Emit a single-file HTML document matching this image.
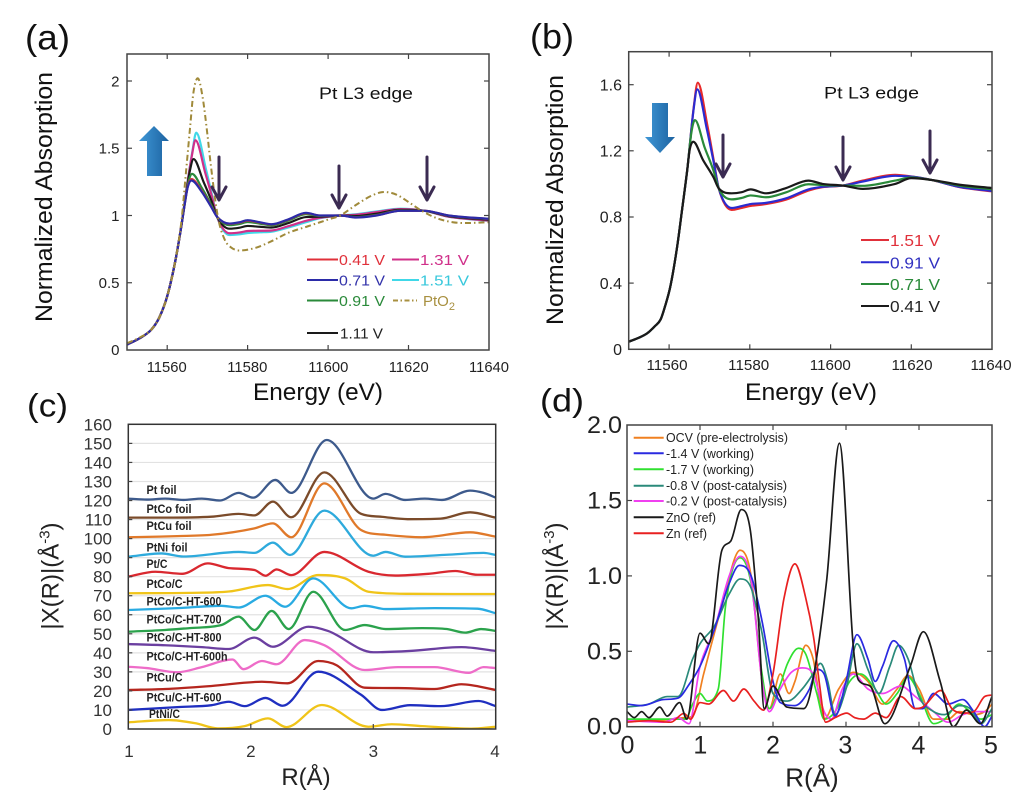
<!DOCTYPE html>
<html>
<head>
<meta charset="utf-8">
<style>
html,body{margin:0;padding:0;background:#fff;}
svg{display:block;}
text{font-family:"Liberation Sans",Arial,sans-serif;}
</style>
</head>
<body>
<svg id="fig" width="1024" height="807" viewBox="0 0 1024 807" xmlns="http://www.w3.org/2000/svg">
<defs>
  <linearGradient id="bgr" x1="0" x2="1" y1="0" y2="0">
    <stop offset="0" stop-color="#3f97d6"/>
    <stop offset="1" stop-color="#1c62a0"/>
  </linearGradient>
  <clipPath id="ca"><rect x="127" y="54" width="362" height="296"/></clipPath>
  <clipPath id="cb"><rect x="628.7" y="51.7" width="363.3" height="297.6"/></clipPath>
  <clipPath id="cc"><rect x="128.3" y="424.3" width="367.4" height="304.7"/></clipPath>
  <clipPath id="cd"><rect x="627" y="425" width="365" height="301.7"/></clipPath>
</defs>
<rect width="1024" height="807" fill="#fff"/>

<!-- ================= PANEL (a) ================= -->
<text x="25" y="49.5" font-size="35" textLength="45" lengthAdjust="spacingAndGlyphs" fill="#111">(a)</text>
<g id="ga" clip-path="url(#ca)"></g>
<rect x="127" y="54" width="362" height="296" fill="none" stroke="#444" stroke-width="1.5"/>
<g stroke="#444" stroke-width="1.2">
  <line x1="167.2" y1="350" x2="167.2" y2="345"/><line x1="247.6" y1="350" x2="247.6" y2="345"/>
  <line x1="328.1" y1="350" x2="328.1" y2="345"/><line x1="408.5" y1="350" x2="408.5" y2="345"/>
  <line x1="167.2" y1="54" x2="167.2" y2="59"/><line x1="247.6" y1="54" x2="247.6" y2="59"/>
  <line x1="328.1" y1="54" x2="328.1" y2="59"/><line x1="408.5" y1="54" x2="408.5" y2="59"/>
  <line x1="127" y1="282.75" x2="132" y2="282.75"/><line x1="127" y1="215.5" x2="132" y2="215.5"/>
  <line x1="127" y1="148.25" x2="132" y2="148.25"/><line x1="127" y1="81" x2="132" y2="81"/>
  <line x1="489" y1="282.75" x2="484" y2="282.75"/><line x1="489" y1="215.5" x2="484" y2="215.5"/>
  <line x1="489" y1="148.25" x2="484" y2="148.25"/><line x1="489" y1="81" x2="484" y2="81"/>
</g>
<g font-size="15" fill="#222" text-anchor="end">
  <text x="119.5" y="355">0</text>
  <text x="119.5" y="288">0.5</text>
  <text x="119.5" y="221">1</text>
  <text x="119.5" y="153.7">1.5</text>
  <text x="119.5" y="86.4">2</text>
</g>
<g font-size="15" fill="#222" text-anchor="middle">
  <text x="166.7" y="372" textLength="40" lengthAdjust="spacingAndGlyphs">11560</text>
  <text x="247.3" y="372" textLength="40" lengthAdjust="spacingAndGlyphs">11580</text>
  <text x="328.3" y="372" textLength="40" lengthAdjust="spacingAndGlyphs">11600</text>
  <text x="408.7" y="372" textLength="40" lengthAdjust="spacingAndGlyphs">11620</text>
  <text x="489" y="372" textLength="40" lengthAdjust="spacingAndGlyphs">11640</text>
</g>
<text transform="translate(52,197) rotate(-90)" text-anchor="middle" font-size="24" textLength="250" lengthAdjust="spacingAndGlyphs" fill="#111">Normalized Absorption</text>
<text x="253" y="400" font-size="24" textLength="130" lengthAdjust="spacingAndGlyphs" fill="#111">Energy (eV)</text>
<text x="319" y="99" font-size="17" textLength="94" lengthAdjust="spacingAndGlyphs" fill="#111">Pt L3 edge</text>
<polygon points="154,126 139,141 147,141 147,176 162,176 162,141 169,141" fill="url(#bgr)"/>
<g stroke="#3b2b52" stroke-width="3" fill="none" stroke-linecap="round" stroke-linejoin="round">
  <path d="M219,157 L219,199 M212,187 L219,200 L226,187"/>
  <path d="M339,166 L339,207 M332,195 L339,208 L346,195"/>
  <path d="M427,157 L427,199 M420,187 L427,200 L434,187"/>
</g>
<g stroke-width="2">
  <line x1="307" y1="259.5" x2="338" y2="259.5" stroke="#e0303a"/>
  <line x1="392" y1="259.5" x2="419" y2="259.5" stroke="#d0308a"/>
  <line x1="307" y1="280" x2="338" y2="280" stroke="#2b2ba8"/>
  <line x1="392" y1="280" x2="419" y2="280" stroke="#40d8e8"/>
  <line x1="307" y1="300.5" x2="338" y2="300.5" stroke="#2a8a3a"/>
  <line x1="393" y1="300.5" x2="417" y2="300.5" stroke="#a89040" stroke-dasharray="5 2.5 1.5 2.5"/>
  <line x1="307" y1="333" x2="338" y2="333" stroke="#1a1a1a"/>
</g>
<g font-size="15">
  <text x="339" y="265" fill="#e0303a" textLength="46" lengthAdjust="spacingAndGlyphs">0.41 V</text>
  <text x="420" y="265" fill="#d0308a" textLength="49" lengthAdjust="spacingAndGlyphs">1.31 V</text>
  <text x="339" y="285.5" fill="#3333aa" textLength="46" lengthAdjust="spacingAndGlyphs">0.71 V</text>
  <text x="420" y="285.5" fill="#38c8dc" textLength="49" lengthAdjust="spacingAndGlyphs">1.51 V</text>
  <text x="339" y="306" fill="#2a8a3a" textLength="46" lengthAdjust="spacingAndGlyphs">0.91 V</text>
  <text x="423" y="306" fill="#a89040">PtO<tspan font-size="11" dy="4">2</tspan></text>
  <text x="340" y="338.5" fill="#222" textLength="43" lengthAdjust="spacingAndGlyphs">1.11 V</text>
</g>

<!-- ================= PANEL (b) ================= -->
<text x="530" y="48.5" font-size="35" textLength="44" lengthAdjust="spacingAndGlyphs" fill="#111">(b)</text>
<g id="gb" clip-path="url(#cb)"></g>
<rect x="628.7" y="51.7" width="363.3" height="297.6" fill="none" stroke="#444" stroke-width="1.5"/>
<g stroke="#444" stroke-width="1.2">
  <line x1="669.1" y1="349.3" x2="669.1" y2="344.3"/><line x1="749.8" y1="349.3" x2="749.8" y2="344.3"/>
  <line x1="830.6" y1="349.3" x2="830.6" y2="344.3"/><line x1="911.3" y1="349.3" x2="911.3" y2="344.3"/>
  <line x1="669.1" y1="51.7" x2="669.1" y2="56.7"/><line x1="749.8" y1="51.7" x2="749.8" y2="56.7"/>
  <line x1="830.6" y1="51.7" x2="830.6" y2="56.7"/><line x1="911.3" y1="51.7" x2="911.3" y2="56.7"/>
  <line x1="628.7" y1="283.1" x2="633.7" y2="283.1"/><line x1="628.7" y1="217" x2="633.7" y2="217"/>
  <line x1="628.7" y1="150.8" x2="633.7" y2="150.8"/><line x1="628.7" y1="84.7" x2="633.7" y2="84.7"/>
  <line x1="992" y1="283.1" x2="987" y2="283.1"/><line x1="992" y1="217" x2="987" y2="217"/>
  <line x1="992" y1="150.8" x2="987" y2="150.8"/><line x1="992" y1="84.7" x2="987" y2="84.7"/>
</g>
<g font-size="16" fill="#222" text-anchor="end">
  <text x="622" y="355">0</text>
  <text x="622" y="289">0.4</text>
  <text x="622" y="222.7">0.8</text>
  <text x="622" y="156.7">1.2</text>
  <text x="622" y="90.7">1.6</text>
</g>
<g font-size="15" fill="#222" text-anchor="middle">
  <text x="667" y="370" textLength="41" lengthAdjust="spacingAndGlyphs">11560</text>
  <text x="748.7" y="370" textLength="41" lengthAdjust="spacingAndGlyphs">11580</text>
  <text x="830.3" y="370" textLength="41" lengthAdjust="spacingAndGlyphs">11600</text>
  <text x="912" y="370" textLength="41" lengthAdjust="spacingAndGlyphs">11620</text>
  <text x="991" y="370" textLength="41" lengthAdjust="spacingAndGlyphs">11640</text>
</g>
<text transform="translate(563,200) rotate(-90)" text-anchor="middle" font-size="24" textLength="250" lengthAdjust="spacingAndGlyphs" fill="#111">Normalized Absorption</text>
<text x="745" y="400" font-size="24" textLength="132" lengthAdjust="spacingAndGlyphs" fill="#111">Energy (eV)</text>
<text x="824" y="98.5" font-size="17" textLength="95" lengthAdjust="spacingAndGlyphs" fill="#111">Pt L3 edge</text>
<polygon points="652,103 668,103 668,137 675,137 660,153 645,137 652,137" fill="url(#bgr)"/>
<g stroke="#3b2b52" stroke-width="3" fill="none" stroke-linecap="round" stroke-linejoin="round">
  <path d="M723,135 L723,176 M716,164 L723,177 L730,164"/>
  <path d="M843,137 L843,179 M836,167 L843,180 L850,167"/>
  <path d="M930,131 L930,172 M923,160 L930,173 L937,160"/>
</g>
<g stroke-width="2">
  <line x1="861" y1="240" x2="889" y2="240" stroke="#e0303a"/>
  <line x1="861" y1="262.3" x2="889" y2="262.3" stroke="#2b2bd0"/>
  <line x1="861" y1="284" x2="889" y2="284" stroke="#2a8a3a"/>
  <line x1="861" y1="306" x2="889" y2="306" stroke="#1a1a1a"/>
</g>
<g font-size="16">
  <text x="890" y="246" fill="#e0303a" textLength="50" lengthAdjust="spacingAndGlyphs">1.51 V</text>
  <text x="890" y="268.3" fill="#3030c0" textLength="50" lengthAdjust="spacingAndGlyphs">0.91 V</text>
  <text x="890" y="290" fill="#2a8a3a" textLength="50" lengthAdjust="spacingAndGlyphs">0.71 V</text>
  <text x="890" y="312" fill="#222" textLength="50" lengthAdjust="spacingAndGlyphs">0.41 V</text>
</g>

<!-- ================= PANEL (c) ================= -->
<text x="27" y="416.5" font-size="32" textLength="41" lengthAdjust="spacingAndGlyphs" fill="#111">(c)</text>
<g id="gridc" stroke="#e2e2e2" stroke-width="1.2"></g>
<g id="gc" clip-path="url(#cc)"></g>
<rect x="128.3" y="424.3" width="367.4" height="304.7" fill="none" stroke="#333" stroke-width="1.5"/>
<g id="tickc" stroke="#444" stroke-width="1.2">
  <line x1="250.8" y1="729" x2="250.8" y2="724"/>
  <line x1="373.3" y1="729" x2="373.3" y2="724"/>
</g>
<g id="labc" font-size="17" fill="#333" text-anchor="end"></g>
<g font-size="17" fill="#333" text-anchor="middle">
  <text x="129" y="757">1</text>
  <text x="250.8" y="757">2</text>
  <text x="373.3" y="757">3</text>
  <text x="495" y="757">4</text>
</g>
<text x="306" y="785" font-size="24" text-anchor="middle" fill="#222">R(Å)</text>
<text transform="translate(58.5,576) rotate(-90)" text-anchor="middle" font-size="24" fill="#222">|X(R)|(Å<tspan font-size="15" dy="-9">-3</tspan><tspan dy="9">)</tspan></text>
<g font-size="11.5" font-weight="bold" fill="#222">
  <text x="146.5" y="494" textLength="30" lengthAdjust="spacingAndGlyphs">Pt foil</text>
  <text x="146.5" y="513" textLength="45" lengthAdjust="spacingAndGlyphs">PtCo foil</text>
  <text x="146.5" y="530" textLength="45" lengthAdjust="spacingAndGlyphs">PtCu foil</text>
  <text x="146.5" y="551.5" textLength="41" lengthAdjust="spacingAndGlyphs">PtNi foil</text>
  <text x="146.5" y="568" textLength="21" lengthAdjust="spacingAndGlyphs">Pt/C</text>
  <text x="146.5" y="588" textLength="36" lengthAdjust="spacingAndGlyphs">PtCo/C</text>
  <text x="146.5" y="605.5" textLength="75" lengthAdjust="spacingAndGlyphs">PtCo/C-HT-600</text>
  <text x="146.5" y="623.5" textLength="75" lengthAdjust="spacingAndGlyphs">PtCo/C-HT-700</text>
  <text x="146.5" y="641.5" textLength="75" lengthAdjust="spacingAndGlyphs">PtCo/C-HT-800</text>
  <text x="146.5" y="660.5" textLength="81" lengthAdjust="spacingAndGlyphs">PtCo/C-HT-600h</text>
  <text x="146.5" y="681.5" textLength="36" lengthAdjust="spacingAndGlyphs">PtCu/C</text>
  <text x="146.5" y="701.5" textLength="75" lengthAdjust="spacingAndGlyphs">PtCu/C-HT-600</text>
  <text x="149" y="718" textLength="31" lengthAdjust="spacingAndGlyphs">PtNi/C</text>
</g>

<!-- ================= PANEL (d) ================= -->
<text x="540" y="411.5" font-size="32" textLength="44" lengthAdjust="spacingAndGlyphs" fill="#111">(d)</text>
<g id="gd" clip-path="url(#cd)"></g>
<rect x="627" y="425" width="365" height="301.7" fill="none" stroke="#444" stroke-width="1.5"/>
<g stroke="#444" stroke-width="1.2">
  <line x1="627" y1="651.3" x2="632" y2="651.3"/><line x1="627" y1="575.9" x2="632" y2="575.9"/><line x1="627" y1="500.5" x2="632" y2="500.5"/>
  <line x1="992" y1="651.3" x2="987" y2="651.3"/><line x1="992" y1="575.9" x2="987" y2="575.9"/><line x1="992" y1="500.5" x2="987" y2="500.5"/>
  <line x1="700" y1="726.7" x2="700" y2="721.7"/><line x1="773" y1="726.7" x2="773" y2="721.7"/>
  <line x1="846" y1="726.7" x2="846" y2="721.7"/><line x1="919" y1="726.7" x2="919" y2="721.7"/>
  <line x1="700" y1="425" x2="700" y2="430"/><line x1="773" y1="425" x2="773" y2="430"/>
  <line x1="846" y1="425" x2="846" y2="430"/><line x1="919" y1="425" x2="919" y2="430"/>
</g>
<g font-size="24" fill="#222" text-anchor="end">
  <text x="622" y="734.5" textLength="35" lengthAdjust="spacingAndGlyphs">0.0</text>
  <text x="622" y="659.5" textLength="35" lengthAdjust="spacingAndGlyphs">0.5</text>
  <text x="622" y="584" textLength="35" lengthAdjust="spacingAndGlyphs">1.0</text>
  <text x="622" y="508.5" textLength="35" lengthAdjust="spacingAndGlyphs">1.5</text>
  <text x="622" y="433" textLength="35" lengthAdjust="spacingAndGlyphs">2.0</text>
</g>
<g font-size="25" fill="#222" text-anchor="middle">
  <text x="627.5" y="753.5">0</text>
  <text x="700.3" y="753.5">1</text>
  <text x="773" y="753.5">2</text>
  <text x="845.3" y="753.5">3</text>
  <text x="918.5" y="753.5">4</text>
  <text x="991" y="753.5">5</text>
</g>
<text x="812" y="786.5" font-size="26" text-anchor="middle" fill="#222">R(Å)</text>
<text transform="translate(563,576) rotate(-90)" text-anchor="middle" font-size="24" fill="#222">|X(R)|(Å<tspan font-size="15" dy="-9">-3</tspan><tspan dy="9">)</tspan></text>
<g stroke-width="2">
  <line x1="633.7" y1="437.7" x2="663.7" y2="437.7" stroke="#f08020"/>
  <line x1="633.7" y1="453.3" x2="663.7" y2="453.3" stroke="#2a2ae0"/>
  <line x1="633.7" y1="469.3" x2="663.7" y2="469.3" stroke="#30e030"/>
  <line x1="633.7" y1="485.7" x2="663.7" y2="485.7" stroke="#2a8a7a"/>
  <line x1="633.7" y1="501" x2="663.7" y2="501" stroke="#f040f0"/>
  <line x1="633.7" y1="517.3" x2="663.7" y2="517.3" stroke="#1a1a1a"/>
  <line x1="633.7" y1="533.3" x2="663.7" y2="533.3" stroke="#e82020"/>
</g>
<g font-size="13" fill="#222">
  <text x="666" y="442.2" textLength="122" lengthAdjust="spacingAndGlyphs">OCV (pre-electrolysis)</text>
  <text x="666" y="457.8" textLength="88" lengthAdjust="spacingAndGlyphs">-1.4 V (working)</text>
  <text x="666" y="473.8" textLength="88" lengthAdjust="spacingAndGlyphs">-1.7 V (working)</text>
  <text x="666" y="490.2" textLength="121" lengthAdjust="spacingAndGlyphs">-0.8 V (post-catalysis)</text>
  <text x="666" y="505.5" textLength="121" lengthAdjust="spacingAndGlyphs">-0.2 V (post-catalysis)</text>
  <text x="666" y="521.8" textLength="50" lengthAdjust="spacingAndGlyphs">ZnO (ref)</text>
  <text x="666" y="537.8" textLength="41" lengthAdjust="spacingAndGlyphs">Zn (ref)</text>
</g>
</svg>

<script>
(function(){
var NS='http://www.w3.org/2000/svg';
function mono(P){
  var n=P.length,dx=[],m=[],t=[],i;
  for(i=0;i<n-1;i++){dx[i]=P[i+1][0]-P[i][0];m[i]=(P[i+1][1]-P[i][1])/dx[i];}
  t[0]=m[0];t[n-1]=m[n-2];
  for(i=1;i<n-1;i++){t[i]=(m[i-1]*m[i]<=0)?0:(m[i-1]+m[i])/2;}
  for(i=0;i<n-1;i++){
    if(m[i]===0){t[i]=0;t[i+1]=0;continue;}
    var a=t[i]/m[i],b=t[i+1]/m[i],s=a*a+b*b;
    if(s>9){var tau=3/Math.sqrt(s);t[i]=tau*a*m[i];t[i+1]=tau*b*m[i];}
  }
  var d='M'+P[0][0].toFixed(2)+','+P[0][1].toFixed(2);
  for(i=0;i<n-1;i++){
    var h=dx[i]/3;
    d+=' C'+(P[i][0]+h).toFixed(2)+','+(P[i][1]+t[i]*h).toFixed(2)+' '+(P[i+1][0]-h).toFixed(2)+','+(P[i+1][1]-t[i+1]*h).toFixed(2)+' '+P[i+1][0].toFixed(2)+','+P[i+1][1].toFixed(2);
  }
  return d;
}
function draw(gid,data,M,color,w,dash){
  var pts=data.map(function(p){return [M.x(p[0]),M.y(p[1])];});
  var el=document.createElementNS(NS,'path');
  el.setAttribute('d',mono(pts));
  el.setAttribute('fill','none');
  el.setAttribute('stroke',color);
  el.setAttribute('stroke-width',w);
  el.setAttribute('stroke-linejoin','round');
  if(dash)el.setAttribute('stroke-dasharray',dash);
  document.getElementById(gid).appendChild(el);
}
var A={x:function(E){return 127+(E-11550)*4.022;},y:function(v){return 350-v*134.5;}};
var B={x:function(E){return 628.7+(E-11550)*4.037;},y:function(v){return 349.3-v*165.4;}};
var C={x:function(R){return 128.3+(R-1)*122.5;},y:function(v){return 729-v*1.904;}};
var D={x:function(R){return 627+R*73;},y:function(v){return 726.7-v*150.8;}};

/* ---- panel a ---- */
function ptA(t){
  var Ep=11566+1.2*t,P=1.26+0.355*t;
  return [[11550,0.04],[11553,0.085],[11556,0.15],[11558,0.24],[11560,0.40],[11562,0.66],[11563.5,0.92],
  [11564.6,1.13+0.03*t],[Ep-0.9,P-0.05-0.08*t],[Ep,P],[Ep+2.5,P-0.08-0.2*t],[11571,1.06+0.11*t],[11572.4,0.99],
  [11575.5,0.94-0.085*t],[11578,0.95-0.09*t],[11580,0.965-0.095*t],[11583,0.95-0.075*t],[11586,0.935-0.055*t],
  [11590,0.97-0.06*t],[11594.5,1.02-0.07*t],[11598,1.0-0.02*t],[11603,1.0],[11607,0.985+0.025*t],
  [11612,1.0+0.03*t],[11618,1.035+0.015*t],[11624,1.035],[11630,1.0-0.01*t],[11640,0.975-0.015*t]];
}
draw('ga',ptA(1),A,'#40d8e8',2.2);
draw('ga',ptA(0.845),A,'#d0308a',2.2);
draw('ga',ptA(0.45),A,'#1a1a1a',2.2);
draw('ga',ptA(0.14),A,'#2a8a3a',2.2);
draw('ga',ptA(0.03),A,'#e0303a',2.2);
draw('ga',ptA(0),A,'#2b2ba8',2.2);
draw('ga',[[11550,0.05],[11553,0.09],[11556,0.15],[11558,0.24],[11560,0.40],[11562,0.66],[11563.5,0.95],[11564.6,1.3],
  [11565.7,1.66],[11566.5,1.91],[11567.6,2.02],[11568.8,1.88],[11570,1.6],[11570.7,1.41],[11572.6,0.99],[11574.3,0.82],[11576,0.76],[11578,0.74],
  [11582,0.76],[11586,0.81],[11590,0.87],[11595,0.92],[11600,0.97],[11603,1.0],[11607,1.08],[11611,1.15],[11614,1.175],
  [11617,1.155],[11620,1.1],[11623,1.04],[11627,0.98],[11631,0.95],[11634,0.944],[11640,0.95]],A,'#a08a3a',2,'6 3 1.5 3');

/* ---- panel b ---- */
function ptB(s){
  var Ep=11566+1.1*s,P=1.255+0.357*s;
  return [[11550,0.046],[11552.5,0.07],[11554.6,0.097],[11556.5,0.14],[11557.9,0.18],[11559,0.26],[11560.3,0.378],
  [11562,0.62],[11563.2,0.84],[11564.5,1.084],[Ep-0.9,P-0.05-0.08*s],[Ep,P],[Ep+2.4,P-0.11-0.15*s],[11571,1.04+0.11*s],
  [11572.3,0.973],[11575.5,0.943-0.1*s],[11578,0.95-0.095*s],[11580.2,0.967-0.1*s],[11584,0.943-0.065*s],
  [11589,0.975-0.07*s],[11594.5,1.02-0.06*s],[11598,1.0-0.02*s],[11603,0.99],[11608,0.97+0.05*s],
  [11616,1.0+0.055*s],[11620,1.035+0.01*s],[11625,1.024],[11632,0.995-0.015*s],[11640,0.975-0.02*s]];
}
draw('gb',ptB(1),B,'#e82a2a',2.2);
draw('gb',ptB(0.888),B,'#2b2bd0',2.2);
draw('gb',ptB(0.367),B,'#2a8a3a',2.2);
draw('gb',ptB(0),B,'#1a1a1a',2.2);

/* ---- panel c ---- */
var gr=document.getElementById('gridc'),lab=document.getElementById('labc'),tk=document.getElementById('tickc');
for(var v=0;v<=160;v+=10){
  var y=729-v*1.904;
  if(v>0&&v<160){
    var l=document.createElementNS(NS,'line');
    l.setAttribute('x1',128.3);l.setAttribute('x2',495.7);l.setAttribute('y1',y);l.setAttribute('y2',y);
    gr.appendChild(l);
    var t2=document.createElementNS(NS,'line');
    t2.setAttribute('x1',128.3);t2.setAttribute('x2',132.3);t2.setAttribute('y1',y);t2.setAttribute('y2',y);
    tk.appendChild(t2);
  }
  var tx=document.createElementNS(NS,'text');
  tx.setAttribute('x',112);tx.setAttribute('y',(y+6).toFixed(1));tx.textContent=String(v);
  lab.appendChild(tx);
}
var cw=2.3;
draw('gc',[[1,121],[1.15,120.5],[1.3,121],[1.45,120.3],[1.6,121],[1.75,120],[1.9,124],[2.02,121.5],[2.2,130.8],[2.33,124],[2.62,151.8],[3.0,121],[3.1,123.5],[3.26,120.3],[3.42,121],[3.56,120.3],[3.79,125.2],[3.9,124],[4,121.5]],C,'#3d5a8c',cw);
draw('gc',[[1,111],[1.3,111],[1.68,111.5],[1.9,113],[2.03,112.2],[2.18,119.4],[2.33,111.2],[2.6,134.8],[2.9,113],[3.06,111.5],[3.28,110.2],[3.55,110.5],[3.79,113.8],[4,111]],C,'#7b4b2a',cw);
draw('gc',[[1,100.7],[1.4,101.3],[1.68,102],[2.03,105.4],[2.18,108],[2.33,100.7],[2.6,129],[2.9,104.5],[3.1,102],[3.4,100.7],[3.79,103.3],[4,101]],C,'#e0792a',cw);
draw('gc',[[1,90.5],[1.27,92.2],[1.45,90.6],[1.9,93],[2.03,92.5],[2.18,97.9],[2.32,91.4],[2.6,114.7],[3.0,91],[3.1,93],[3.26,90.5],[3.6,91.5],[3.9,92.5],[4,91.4]],C,'#2eaadc',cw);
draw('gc',[[1,80],[1.22,82.6],[1.44,81.5],[1.65,87],[1.82,84.5],[2.03,83.5],[2.12,80.5],[2.21,83.8],[2.33,80.8],[2.6,93],[2.96,82.6],[3.18,80.6],[3.45,81.5],[3.67,83],[3.85,81],[4,81]],C,'#d9282f',cw);
draw('gc',[[1,71.3],[1.5,71.5],[1.82,72.2],[2.14,75.6],[2.3,73.5],[2.55,80.9],[2.77,79.1],[2.96,72.1],[3.3,71],[4,70.9]],C,'#f0c419',cw);
draw('gc',[[1,62.5],[1.4,63.5],[1.76,64.7],[1.9,63.8],[2.12,70],[2.28,64.2],[2.51,79.1],[2.82,63.4],[2.93,64.7],[3.1,63],[3.5,63.5],[3.85,63.2],[4,60.8]],C,'#29abe2',cw);
draw('gc',[[1,51.1],[1.3,52],[1.5,53],[1.76,54.6],[1.9,59],[2.03,52],[2.17,62],[2.31,52.5],[2.51,72.1],[2.77,52],[2.93,54.6],[3.1,52.5],[3.4,53],[3.6,52.5],[3.75,50.6],[3.88,52.5],[4,51.5]],C,'#2ba24c',cw);
draw('gc',[[1,44.6],[1.3,44],[1.6,43],[1.82,42],[2.03,48],[2.18,43.2],[2.47,53.7],[2.63,51.5],[3.0,40.3],[3.3,41],[3.72,43],[4,41]],C,'#6b3fa0',cw);
draw('gc',[[1,32.7],[1.15,32],[1.4,29.8],[1.6,32.5],[1.85,36.5],[1.94,31.4],[2.09,35.7],[2.21,34],[2.44,46.7],[2.6,44],[2.93,31],[3.2,32.5],[3.5,32.5],[3.78,29.5],[3.9,32.5],[4,32]],C,'#ee6cc8',cw);
draw('gc',[[1,20.5],[1.3,21],[1.68,22.6],[2.09,24.8],[2.3,24],[2.55,35.7],[2.7,33.5],[2.93,21.7],[3.2,21.5],[3.5,21],[3.72,23.5],[4,20.5]],C,'#b5261e',cw);
draw('gc',[[1,10],[1.4,11.5],[1.68,12.5],[1.82,14.3],[1.95,12],[2.12,16.3],[2.26,12.2],[2.55,30.1],[2.9,18],[3.07,10],[3.3,12.5],[3.55,12],[3.86,14.7],[4,12]],C,'#1f2fc0',cw);
draw('gc',[[1,3.5],[1.33,4.7],[1.55,3],[1.73,0.3],[1.95,1.5],[2.14,5.6],[2.29,1],[2.58,12.6],[2.96,1.2],[3.15,2.5],[3.4,1.5],[3.8,0.2],[4,1.2]],C,'#f0c419',cw);

/* ---- panel d ---- */
var dw=1.7;
draw('gd',[[0,0.05],[0.4,0.04],[0.8,0.06],[0.9,0.07],[1.05,0.35],[1.3,0.8],[1.55,1.17],[1.7,1.0],[1.85,0.3],[1.95,0.12],[2.1,0.35],[2.22,0.22],[2.3,0.3],[2.45,0.54],[2.55,0.45],[2.7,0.05],[2.9,0.25],[3.1,0.36],[3.3,0.3],[3.5,0.15],[3.7,0.25],[3.85,0.34],[4.0,0.25],[4.2,0.05],[4.4,0.05],[4.55,0.1],[4.75,0.08],[4.9,0.1],[5.0,0.15]],D,'#f08020',dw);
draw('gd',[[0,0.05],[0.8,0.05],[0.9,0.15],[1.0,0.22],[1.1,0.17],[1.25,0.25],[1.35,0.8],[1.55,1.12],[1.7,0.95],[1.85,0.35],[1.95,0.12],[2.1,0.28],[2.2,0.42],[2.35,0.52],[2.45,0.48],[2.6,0.22],[2.7,0.05],[2.85,0.1],[3.05,0.3],[3.2,0.35],[3.4,0.25],[3.55,0.15],[3.7,0.22],[3.85,0.33],[4.0,0.22],[4.2,0.02],[4.35,0.05],[4.55,0.15],[4.7,0.1],[4.85,0.05],[5.0,0.08]],D,'#30e030',dw);
draw('gd',[[0,0.04],[0.5,0.03],[0.7,0.06],[0.85,0.02],[1.0,0.4],[1.2,0.65],[1.4,1.0],[1.55,1.13],[1.7,0.97],[1.85,0.3],[1.95,0.1],[2.1,0.25],[2.25,0.36],[2.4,0.39],[2.55,0.35],[2.7,0.1],[2.8,0.05],[2.95,0.25],[3.1,0.35],[3.3,0.25],[3.5,0.22],[3.75,0.27],[3.95,0.2],[4.2,0.1],[4.4,0.03],[4.6,0.08],[4.8,0.1],[5.0,0.1]],D,'#f040f0',dw);
draw('gd',[[0,0.13],[0.3,0.15],[0.55,0.2],[0.7,0.2],[0.9,0.45],[1.0,0.55],[1.2,0.67],[1.4,0.88],[1.55,0.98],[1.7,0.92],[1.85,0.62],[2.0,0.22],[2.2,0.17],[2.4,0.25],[2.55,0.35],[2.65,0.42],[2.75,0.3],[2.85,0.08],[3.0,0.25],[3.15,0.55],[3.3,0.38],[3.45,0.22],[3.6,0.4],[3.72,0.54],[3.85,0.45],[4.0,0.2],[4.2,0.1],[4.35,0.08],[4.55,0.14],[4.7,0.12],[4.85,0.02],[5.0,0.12]],D,'#2a8a7a',dw);
draw('gd',[[0,0.15],[0.2,0.14],[0.5,0.18],[0.7,0.19],[0.85,0.28],[1.0,0.4],[1.2,0.65],[1.4,0.95],[1.54,1.07],[1.7,1.0],[1.85,0.7],[2.0,0.3],[2.1,0.16],[2.3,0.14],[2.5,0.25],[2.6,0.38],[2.7,0.35],[2.85,0.07],[3.0,0.3],[3.15,0.61],[3.3,0.45],[3.4,0.3],[3.5,0.4],[3.65,0.57],[3.8,0.45],[3.95,0.12],[4.05,0.12],[4.2,0.22],[4.4,0.15],[4.6,0.18],[4.75,0.1],[4.9,0.0],[5.0,0.07]],D,'#2a2ae0',dw);
draw('gd',[[0,0.03],[0.3,0.04],[0.6,0.03],[0.78,0.088],[0.87,0.05],[1.0,0.16],[1.12,0.15],[1.32,0.24],[1.46,0.17],[1.6,0.25],[1.74,0.17],[1.87,0.11],[2.0,0.35],[2.15,0.85],[2.3,1.08],[2.45,0.85],[2.56,0.58],[2.64,0.27],[2.72,0.03],[2.85,0.06],[3.01,0.09],[3.12,0.06],[3.24,0.05],[3.4,0.09],[3.55,0.06],[3.75,0.2],[3.95,0.12],[4.05,0.13],[4.3,0.24],[4.45,0.12],[4.6,0.09],[4.75,0.1],[4.9,0.2],[5.0,0.21]],D,'#e82020',dw);
draw('gd',[[0,0.1],[0.1,0.06],[0.2,0.1],[0.3,0.06],[0.45,0.13],[0.55,0.07],[0.72,0.16],[0.82,0.05],[1.0,0.62],[1.12,0.55],[1.3,1.17],[1.42,1.23],[1.566,1.44],[1.69,1.3],[1.8,0.71],[1.88,0.12],[2.0,0.27],[2.19,0.13],[2.42,0.12],[2.51,0.22],[2.735,0.97],[2.91,1.88],[3.1,0.53],[3.17,0.31],[3.33,0.27],[3.53,0.02],[3.88,0.4],[4.06,0.63],[4.29,0.3],[4.47,0.0],[4.65,0.11],[4.84,0.02],[5.0,0.2]],D,'#1a1a1a',dw);
})();
</script>
</body>
</html>
